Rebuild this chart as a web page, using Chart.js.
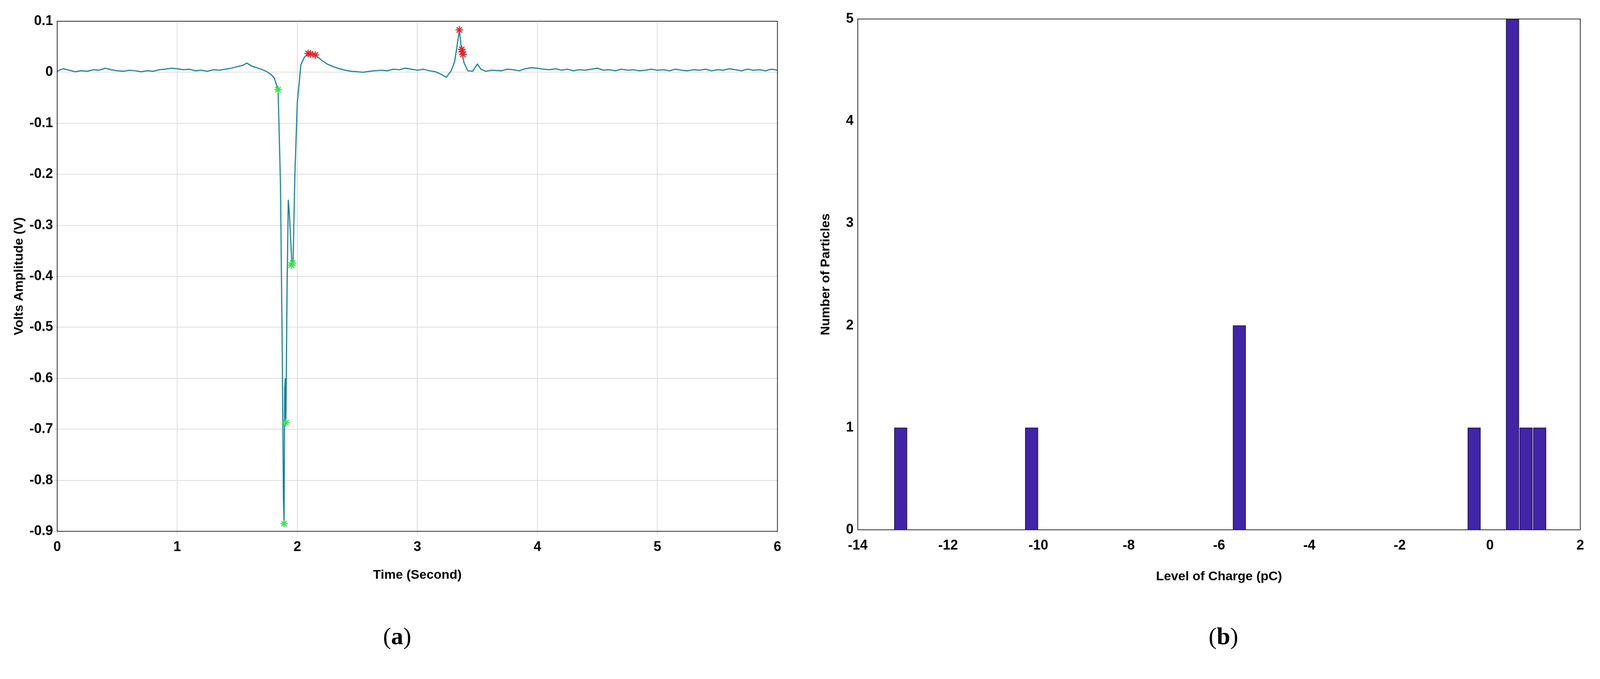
<!DOCTYPE html>
<html>
<head>
<meta charset="utf-8">
<script src="https://cdn.jsdelivr.net/npm/chart.js@4.4.0/dist/chart.umd.min.js"></script>
<style>
  html, body { margin: 0; padding: 0; background: #fff; overflow: hidden; }
  #page { position: relative; width: 4219px; height: 1737px; transform-origin: 0 0; }
  canvas { position: absolute; top: 0; }
  .cap { position: absolute; font-family: "Liberation Serif", serif; font-size: 64px; top: 1640px; }
</style>
</head>
<body>
<div id="page">
<canvas id="sig" width="2110" height="1560" style="left:0;width:2110px;height:1560px"></canvas>
<canvas id="hist" width="2109" height="1560" style="left:2110px;width:2109px;height:1560px"></canvas>
<div class="cap" style="left:1010px">(<b>a</b>)</div>
<div class="cap" style="left:3187px">(<b>b</b>)</div>
</div>
<script>
// signal trace (time in s, amplitude in V)
const timeS = [0, 0.05, 0.1, 0.15, 0.2, 0.25, 0.3, 0.35, 0.4, 0.45, 0.5, 0.55, 0.6, 0.65, 0.7, 0.75, 0.8, 0.85, 0.9, 0.95,
  1.0, 1.05, 1.1, 1.15, 1.2, 1.25, 1.3, 1.35, 1.4, 1.45, 1.5, 1.55, 1.58, 1.62, 1.66, 1.7, 1.74, 1.78, 1.81, 1.84,
  1.86, 1.875, 1.885, 1.89, 1.895, 1.9, 1.905, 1.915, 1.925, 1.935, 1.945, 1.955, 1.965, 1.98, 2.0, 2.03, 2.06, 2.1, 2.15, 2.2,
  2.25, 2.3, 2.35, 2.4, 2.45, 2.5, 2.55, 2.6, 2.65, 2.7, 2.75, 2.8, 2.85, 2.9, 2.95, 3.0, 3.05, 3.1, 3.15, 3.2,
  3.24, 3.28, 3.31, 3.33, 3.35, 3.37, 3.39, 3.42, 3.46, 3.5, 3.53, 3.57, 3.62, 3.7, 3.75, 3.8, 3.85, 3.9, 3.95, 4.0,
  4.05, 4.1, 4.15, 4.2, 4.25, 4.3, 4.35, 4.4, 4.45, 4.5, 4.55, 4.6, 4.65, 4.7, 4.75, 4.8, 4.85, 4.9, 4.95, 5.0,
  5.05, 5.1, 5.15, 5.2, 5.25, 5.3, 5.35, 5.4, 5.45, 5.5, 5.55, 5.6, 5.65, 5.7, 5.75, 5.8, 5.85, 5.9, 5.95, 6.0];
const voltsV = [0.002, 0.007, 0.004, 0.001, 0.003, 0.002, 0.005, 0.004, 0.008, 0.005, 0.003, 0.002, 0.004, 0.003, 0.001, 0.003, 0.002, 0.005, 0.006, 0.008,
  0.007, 0.005, 0.006, 0.003, 0.004, 0.002, 0.005, 0.004, 0.006, 0.008, 0.011, 0.014, 0.018, 0.012, 0.009, 0.006, 0.002, -0.004, -0.012, -0.035,
  -0.22, -0.55, -0.84, -0.885, -0.62, -0.6, -0.69, -0.42, -0.25, -0.28, -0.33, -0.375, -0.37, -0.2, -0.06, 0.015, 0.03, 0.036, 0.034, 0.024,
  0.016, 0.011, 0.007, 0.004, 0.002, 0.001, 0.0, 0.002, 0.003, 0.004, 0.003, 0.006, 0.005, 0.008, 0.006, 0.004, 0.006, 0.003, 0.001, -0.004,
  -0.01, 0.002, 0.02, 0.05, 0.083, 0.04, 0.018, 0.003, 0.002, 0.016, 0.006, 0.002, 0.004, 0.003, 0.006, 0.005, 0.003, 0.007, 0.009, 0.008,
  0.006, 0.005, 0.007, 0.004, 0.006, 0.003, 0.005, 0.004, 0.006, 0.008, 0.004, 0.005, 0.003, 0.006, 0.004, 0.005, 0.003, 0.004, 0.006, 0.004,
  0.005, 0.003, 0.006, 0.004, 0.003, 0.005, 0.004, 0.006, 0.003, 0.005, 0.004, 0.007, 0.005, 0.003, 0.006, 0.004, 0.005, 0.003, 0.006, 0.004];
const redStarsX = [2.09, 2.11, 2.15, 3.35, 3.37, 3.375, 3.38];
const redStarsY = [0.037, 0.036, 0.034, 0.083, 0.045, 0.04, 0.035];
const greenStarsX = [1.84, 1.89, 1.905, 1.95, 1.96];
const greenStarsY = [-0.034, -0.885, -0.687, -0.378, -0.374];

// histogram of charge levels
const binCenters = [-13.05, -10.15, -5.55, -0.35, 0.5, 0.8, 1.1];
const particleCounts = [1, 1, 2, 1, 5, 1, 1];

// fit the 4219px page into whatever the viewport really is
const page = document.getElementById("page");
const fit = Math.min(window.innerWidth / 4219, window.innerHeight / 1737);
if (fit > 0 && Math.abs(fit - 1) > 0.001) page.style.transform = "scale(" + fit + ")";

const font = { family: "Liberation Sans, Arial, sans-serif", weight: "bold", size: 36 };
const titleFont = { family: "Liberation Sans, Arial, sans-serif", weight: "bold", size: 34 };

const boxPlugin = {
  id: "box",
  afterDraw(c) {
    const a = c.chartArea, ctx = c.ctx;
    ctx.save();
    ctx.strokeStyle = "#222";
    ctx.lineWidth = 2;
    ctx.strokeRect(a.left, a.top, a.right - a.left, a.bottom - a.top);
    ctx.restore();
  }
};

const pts = (xs, ys) => xs.map((x, i) => ({ x: x, y: ys[i] }));

new Chart(document.getElementById("sig"), {
  type: "scatter",
  data: {
    datasets: [
      { data: pts(greenStarsX, greenStarsY), pointStyle: "star", pointRadius: 10, borderColor: "#2ee84a", borderWidth: 3, showLine: false },
      { data: pts(redStarsX, redStarsY), pointStyle: "star", pointRadius: 10, borderColor: "#e8232a", borderWidth: 3, showLine: false },
      { data: pts(timeS, voltsV), showLine: true, borderColor: "#17819a", borderWidth: 3, pointRadius: 0 }
    ]
  },
  options: {
    responsive: false, animation: false,
    layout: { padding: { left: 26, top: 56, right: 60, bottom: 20 } },
    plugins: { legend: { display: false }, tooltip: { enabled: false } },
    scales: {
      x: {
        type: "linear", min: 0, max: 6,
        ticks: { stepSize: 1, color: "#000", font: font, padding: 12 },
        grid: { color: "#dcdcdc", lineWidth: 2 },
        title: { display: true, text: "Time (Second)", color: "#000", font: titleFont, padding: { top: 20 } }
      },
      y: {
        min: -0.9, max: 0.1,
        ticks: { stepSize: 0.1, color: "#000", font: font, callback: v => Math.abs(v) < 1e-9 ? "0" : v.toFixed(1) },
        grid: { color: "#dcdcdc", lineWidth: 2 },
        title: { display: true, text: "Volts Amplitude (V)", color: "#000", font: titleFont }
      }
    }
  },
  plugins: [boxPlugin]
});

new Chart(document.getElementById("hist"), {
  type: "bar",
  data: {
    datasets: [{
      data: pts(binCenters, particleCounts),
      backgroundColor: "#4124a8", borderColor: "#1a1040", borderWidth: 2,
      barThickness: 34
    }]
  },
  options: {
    responsive: false, animation: false,
    layout: { padding: { left: 43, top: 50, right: 52, bottom: 16 } },
    plugins: { legend: { display: false }, tooltip: { enabled: false } },
    scales: {
      x: {
        type: "linear", min: -14, max: 2, offset: false,
        ticks: { stepSize: 2, color: "#000", font: font, padding: 12 },
        grid: { display: false },
        title: { display: true, text: "Level of Charge (pC)", color: "#000", font: titleFont, padding: { top: 28 } }
      },
      y: {
        min: 0, max: 5,
        ticks: { stepSize: 1, color: "#000", font: font },
        grid: { display: false },
        title: { display: true, text: "Number of Particles", color: "#000", font: titleFont, padding: { bottom: 30 } }
      }
    }
  },
  plugins: [boxPlugin]
});
</script>
</body>
</html>
